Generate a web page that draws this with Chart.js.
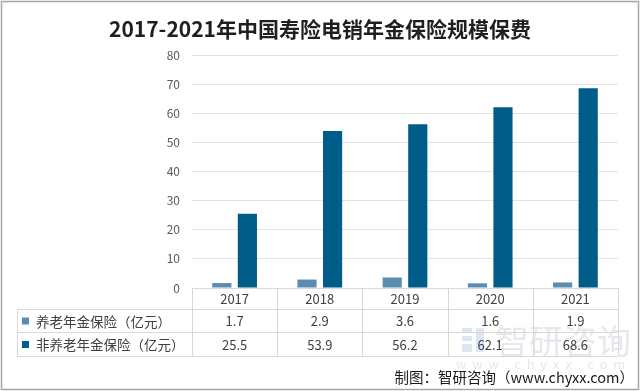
<!DOCTYPE html>
<html><head><meta charset="utf-8">
<script src="https://cdn.jsdelivr.net/npm/chart.js@4/dist/chart.umd.min.js"></script>
<style>html,body{margin:0;padding:0;background:#fff}#wrap{width:640px;height:391px;position:relative}</style>
</head><body><div id="wrap"><canvas id="c" width="640" height="391"></canvas></div>
<script>
const titleText = '2017-2021年中国寿险电销年金保险规模保费';
const categories = ['2017','2018','2019','2020','2021'];
const pensionLabel = '养老年金保险（亿元）';
const pension = [1.7, 2.9, 3.6, 1.6, 1.9];
const nonPensionLabel = '非养老年金保险（亿元）';
const nonPension = [25.5, 53.9, 56.2, 62.1, 68.6];
const yMin = 0, yMax = 80, yStep = 10;
const creditText = '制图：智研咨询（www.chyxx.com）';
const colors = ['#5a8db0', '#005d89'];
const FONT = '"Noto Sans CJK SC", "Noto Sans", sans-serif';

const tablePlugin = {
  id: 'tablePlugin',
  beforeDraw(chart) {
    const ctx = chart.ctx;
    ctx.save();
    ctx.fillStyle = '#ffffff';
    ctx.fillRect(0, 0, chart.width, chart.height);
    ctx.restore();
  },
  afterDraw(chart) {
    const ctx = chart.ctx;
    const x = chart.scales.x;
    const area = chart.chartArea;
    const colW = x.getPixelForValue(1) - x.getPixelForValue(0);
    const left = area.left, right = area.right, base = area.bottom;
    const tableLeft = 17;
    const rows = [base, 309, 332, 356];
    ctx.save();
    // watermark
    ctx.globalAlpha = 0.3;
    ctx.fillStyle = '#a9b4c0';
    ctx.font = '34px ' + FONT;
    ctx.textAlign = 'left';
    ctx.textBaseline = 'middle';
    ctx.fillText('智研咨询', 495, 341);
    ctx.font = '13px ' + FONT;
    ctx.fillText('w  w  w  .  c  h  y  x  x  .  c  o  m', 456, 364);
    ctx.fillStyle = '#8fb0d8';
    ctx.fillRect(462, 328, 10, 5);
    ctx.fillRect(462, 336, 10, 5);
    ctx.fillRect(476, 328, 8, 24);
    ctx.fillRect(462, 344, 10, 8);
    ctx.globalAlpha = 1;
    // grid lines of table
    ctx.strokeStyle = '#d9d9d9';
    ctx.lineWidth = 1;
    ctx.beginPath();
    ctx.moveTo(left, base + 0.5); ctx.lineTo(right, base + 0.5);
    for (let r = 1; r < rows.length; r++) {
      ctx.moveTo(tableLeft, rows[r] + 0.5); ctx.lineTo(right, rows[r] + 0.5);
    }
    ctx.moveTo(tableLeft + 0.5, rows[1]); ctx.lineTo(tableLeft + 0.5, rows[3]);
    for (let k = 0; k <= categories.length; k++) {
      const px = Math.round(left + k * colW) + 0.5;
      ctx.moveTo(px, base); ctx.lineTo(px, rows[3]);
    }
    ctx.stroke();
    // texts
    ctx.fillStyle = '#404040';
    ctx.font = '13px ' + FONT;
    ctx.textAlign = 'center';
    ctx.textBaseline = 'middle';
    categories.forEach((c, i) => {
      const cx = x.getPixelForValue(i);
      ctx.fillText(c, cx, (rows[0] + rows[1]) / 2 + 1);
      ctx.fillText(String(pension[i]), cx, (rows[1] + rows[2]) / 2 + 1);
      ctx.fillText(String(nonPension[i]), cx, (rows[2] + rows[3]) / 2 + 1);
    });
    // legend keys
    const labels = [pensionLabel, nonPensionLabel];
    labels.forEach((lab, j) => {
      const cy = (rows[j + 1] + rows[j + 2]) / 2;
      ctx.fillStyle = colors[j];
      ctx.fillRect(22, cy - 3, 7, 7);
      ctx.fillStyle = '#404040';
      ctx.textAlign = 'left';
      ctx.font = '13.5px ' + FONT;
      ctx.fillText(lab, 36, cy + 1);
    });
    // title
    ctx.fillStyle = '#1f1f1f';
    ctx.textAlign = 'center';
    ctx.font = 'bold 21px ' + FONT;
    ctx.fillText(titleText, 320, 29);
    // credit
    ctx.fillStyle = '#1a1a1a';
    ctx.textAlign = 'right';
    ctx.font = '14.5px ' + FONT;
    ctx.fillText(creditText, 634, 377);
    // outer border
    ctx.strokeStyle = '#a6a6a6';
    ctx.lineWidth = 1.5;
    ctx.strokeRect(1.5, 1.5, chart.width - 3, chart.height - 3);
    ctx.restore();
  }
};

new Chart(document.getElementById('c'), {
  type: 'bar',
  data: {
    labels: categories,
    datasets: [
      { label: pensionLabel, data: pension, backgroundColor: colors[0], categoryPercentage: 0.6, barPercentage: 0.75 },
      { label: nonPensionLabel, data: nonPension, backgroundColor: colors[1], categoryPercentage: 0.6, barPercentage: 0.75 }
    ]
  },
  options: {
    responsive: false,
    animation: false,
    layout: { padding: { left: 0, right: 22, top: 55, bottom: 103 } },
    plugins: { legend: { display: false }, tooltip: { enabled: false }, title: { display: false } },
    scales: {
      x: { display: false },
      y: {
        min: yMin, max: yMax,
        afterFit(s) { s.width = 192; },
        ticks: { stepSize: yStep, padding: 12, color: '#595959', font: { size: 12, family: FONT } },
        grid: { color: '#e3e3e3', drawTicks: false },
        border: { display: false }
      }
    }
  },
  plugins: [tablePlugin]
});
</script></body></html>
